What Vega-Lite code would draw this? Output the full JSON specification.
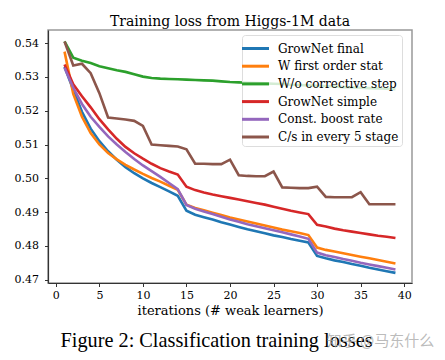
{
  "$schema": "https://vega.github.io/schema/vega-lite/v6.json",
  "width": 364,
  "height": 253,
  "autosize": {"type": "none"},
  "padding": {"left": 48, "top": 30, "right": 33, "bottom": 77},
  "background": "white",
  "title": {"text": "Training loss from Higgs-1M data", "font": "DejaVu Serif", "fontSize": 14, "fontWeight": "normal", "color": "#000000", "baseline": "alphabetic", "offset": 6, "dy": 16, "anchor": "middle"},
  "data": {"values": [
    {"method":"GrowNet final","iteration":1,"loss":0.5330},{"method":"GrowNet final","iteration":2,"loss":0.5262},{"method":"GrowNet final","iteration":3,"loss":0.5197},{"method":"GrowNet final","iteration":4,"loss":0.5147},{"method":"GrowNet final","iteration":5,"loss":0.5110},{"method":"GrowNet final","iteration":6,"loss":0.5080},{"method":"GrowNet final","iteration":7,"loss":0.5055},{"method":"GrowNet final","iteration":8,"loss":0.5033},{"method":"GrowNet final","iteration":9,"loss":0.5015},{"method":"GrowNet final","iteration":10,"loss":0.5000},{"method":"GrowNet final","iteration":11,"loss":0.4986},{"method":"GrowNet final","iteration":12,"loss":0.4974},{"method":"GrowNet final","iteration":13,"loss":0.4961},{"method":"GrowNet final","iteration":14,"loss":0.4948},{"method":"GrowNet final","iteration":15,"loss":0.4904},{"method":"GrowNet final","iteration":16,"loss":0.4892},{"method":"GrowNet final","iteration":17,"loss":0.4885},{"method":"GrowNet final","iteration":18,"loss":0.4878},{"method":"GrowNet final","iteration":19,"loss":0.4870},{"method":"GrowNet final","iteration":20,"loss":0.4863},{"method":"GrowNet final","iteration":21,"loss":0.4856},{"method":"GrowNet final","iteration":22,"loss":0.4849},{"method":"GrowNet final","iteration":23,"loss":0.4843},{"method":"GrowNet final","iteration":24,"loss":0.4837},{"method":"GrowNet final","iteration":25,"loss":0.4831},{"method":"GrowNet final","iteration":26,"loss":0.4826},{"method":"GrowNet final","iteration":27,"loss":0.4820},{"method":"GrowNet final","iteration":28,"loss":0.4815},{"method":"GrowNet final","iteration":29,"loss":0.4810},{"method":"GrowNet final","iteration":30,"loss":0.4770},{"method":"GrowNet final","iteration":31,"loss":0.4763},{"method":"GrowNet final","iteration":32,"loss":0.4757},{"method":"GrowNet final","iteration":33,"loss":0.4752},{"method":"GrowNet final","iteration":34,"loss":0.4746},{"method":"GrowNet final","iteration":35,"loss":0.4741},{"method":"GrowNet final","iteration":36,"loss":0.4735},{"method":"GrowNet final","iteration":37,"loss":0.4730},{"method":"GrowNet final","iteration":38,"loss":0.4725},{"method":"GrowNet final","iteration":39,"loss":0.4720},
    {"method":"W first order stat","iteration":1,"loss":0.5375},{"method":"W first order stat","iteration":2,"loss":0.5250},{"method":"W first order stat","iteration":3,"loss":0.5182},{"method":"W first order stat","iteration":4,"loss":0.5134},{"method":"W first order stat","iteration":5,"loss":0.5100},{"method":"W first order stat","iteration":6,"loss":0.5075},{"method":"W first order stat","iteration":7,"loss":0.5056},{"method":"W first order stat","iteration":8,"loss":0.5040},{"method":"W first order stat","iteration":9,"loss":0.5026},{"method":"W first order stat","iteration":10,"loss":0.5013},{"method":"W first order stat","iteration":11,"loss":0.5001},{"method":"W first order stat","iteration":12,"loss":0.4990},{"method":"W first order stat","iteration":13,"loss":0.4978},{"method":"W first order stat","iteration":14,"loss":0.4966},{"method":"W first order stat","iteration":15,"loss":0.4922},{"method":"W first order stat","iteration":16,"loss":0.4912},{"method":"W first order stat","iteration":17,"loss":0.4905},{"method":"W first order stat","iteration":18,"loss":0.4898},{"method":"W first order stat","iteration":19,"loss":0.4891},{"method":"W first order stat","iteration":20,"loss":0.4884},{"method":"W first order stat","iteration":21,"loss":0.4878},{"method":"W first order stat","iteration":22,"loss":0.4872},{"method":"W first order stat","iteration":23,"loss":0.4866},{"method":"W first order stat","iteration":24,"loss":0.4860},{"method":"W first order stat","iteration":25,"loss":0.4854},{"method":"W first order stat","iteration":26,"loss":0.4848},{"method":"W first order stat","iteration":27,"loss":0.4843},{"method":"W first order stat","iteration":28,"loss":0.4838},{"method":"W first order stat","iteration":29,"loss":0.4832},{"method":"W first order stat","iteration":30,"loss":0.4795},{"method":"W first order stat","iteration":31,"loss":0.4788},{"method":"W first order stat","iteration":32,"loss":0.4783},{"method":"W first order stat","iteration":33,"loss":0.4778},{"method":"W first order stat","iteration":34,"loss":0.4773},{"method":"W first order stat","iteration":35,"loss":0.4768},{"method":"W first order stat","iteration":36,"loss":0.4763},{"method":"W first order stat","iteration":37,"loss":0.4758},{"method":"W first order stat","iteration":38,"loss":0.4753},{"method":"W first order stat","iteration":39,"loss":0.4748},
    {"method":"W/o corrective step","iteration":1,"loss":0.5405},{"method":"W/o corrective step","iteration":2,"loss":0.5357},{"method":"W/o corrective step","iteration":3,"loss":0.5348},{"method":"W/o corrective step","iteration":4,"loss":0.5341},{"method":"W/o corrective step","iteration":5,"loss":0.5332},{"method":"W/o corrective step","iteration":6,"loss":0.5326},{"method":"W/o corrective step","iteration":7,"loss":0.5320},{"method":"W/o corrective step","iteration":8,"loss":0.5315},{"method":"W/o corrective step","iteration":9,"loss":0.5308},{"method":"W/o corrective step","iteration":10,"loss":0.5301},{"method":"W/o corrective step","iteration":11,"loss":0.5297},{"method":"W/o corrective step","iteration":12,"loss":0.5295},{"method":"W/o corrective step","iteration":13,"loss":0.5294},{"method":"W/o corrective step","iteration":14,"loss":0.5293},{"method":"W/o corrective step","iteration":15,"loss":0.5292},{"method":"W/o corrective step","iteration":16,"loss":0.5291},{"method":"W/o corrective step","iteration":17,"loss":0.5290},{"method":"W/o corrective step","iteration":18,"loss":0.5289},{"method":"W/o corrective step","iteration":19,"loss":0.5287},{"method":"W/o corrective step","iteration":20,"loss":0.5285},{"method":"W/o corrective step","iteration":21,"loss":0.5284},{"method":"W/o corrective step","iteration":22,"loss":0.5283},{"method":"W/o corrective step","iteration":23,"loss":0.5282},{"method":"W/o corrective step","iteration":24,"loss":0.5281},{"method":"W/o corrective step","iteration":25,"loss":0.5280},{"method":"W/o corrective step","iteration":26,"loss":0.5279},{"method":"W/o corrective step","iteration":27,"loss":0.5277},{"method":"W/o corrective step","iteration":28,"loss":0.5276},{"method":"W/o corrective step","iteration":29,"loss":0.5275},{"method":"W/o corrective step","iteration":30,"loss":0.5274},{"method":"W/o corrective step","iteration":31,"loss":0.5273},{"method":"W/o corrective step","iteration":32,"loss":0.5272},{"method":"W/o corrective step","iteration":33,"loss":0.5270},{"method":"W/o corrective step","iteration":34,"loss":0.5269},{"method":"W/o corrective step","iteration":35,"loss":0.5268},{"method":"W/o corrective step","iteration":36,"loss":0.5267},{"method":"W/o corrective step","iteration":37,"loss":0.5266},{"method":"W/o corrective step","iteration":38,"loss":0.5265},{"method":"W/o corrective step","iteration":39,"loss":0.5264},
    {"method":"GrowNet simple","iteration":1,"loss":0.5337},{"method":"GrowNet simple","iteration":2,"loss":0.5278},{"method":"GrowNet simple","iteration":3,"loss":0.5243},{"method":"GrowNet simple","iteration":4,"loss":0.5210},{"method":"GrowNet simple","iteration":5,"loss":0.5175},{"method":"GrowNet simple","iteration":6,"loss":0.5145},{"method":"GrowNet simple","iteration":7,"loss":0.5117},{"method":"GrowNet simple","iteration":8,"loss":0.5093},{"method":"GrowNet simple","iteration":9,"loss":0.5074},{"method":"GrowNet simple","iteration":10,"loss":0.5058},{"method":"GrowNet simple","iteration":11,"loss":0.5043},{"method":"GrowNet simple","iteration":12,"loss":0.5030},{"method":"GrowNet simple","iteration":13,"loss":0.5020},{"method":"GrowNet simple","iteration":14,"loss":0.5011},{"method":"GrowNet simple","iteration":15,"loss":0.4975},{"method":"GrowNet simple","iteration":16,"loss":0.4965},{"method":"GrowNet simple","iteration":17,"loss":0.4958},{"method":"GrowNet simple","iteration":18,"loss":0.4952},{"method":"GrowNet simple","iteration":19,"loss":0.4947},{"method":"GrowNet simple","iteration":20,"loss":0.4942},{"method":"GrowNet simple","iteration":21,"loss":0.4937},{"method":"GrowNet simple","iteration":22,"loss":0.4932},{"method":"GrowNet simple","iteration":23,"loss":0.4927},{"method":"GrowNet simple","iteration":24,"loss":0.4922},{"method":"GrowNet simple","iteration":25,"loss":0.4916},{"method":"GrowNet simple","iteration":26,"loss":0.4910},{"method":"GrowNet simple","iteration":27,"loss":0.4904},{"method":"GrowNet simple","iteration":28,"loss":0.4899},{"method":"GrowNet simple","iteration":29,"loss":0.4894},{"method":"GrowNet simple","iteration":30,"loss":0.4862},{"method":"GrowNet simple","iteration":31,"loss":0.4857},{"method":"GrowNet simple","iteration":32,"loss":0.4851},{"method":"GrowNet simple","iteration":33,"loss":0.4846},{"method":"GrowNet simple","iteration":34,"loss":0.4842},{"method":"GrowNet simple","iteration":35,"loss":0.4838},{"method":"GrowNet simple","iteration":36,"loss":0.4834},{"method":"GrowNet simple","iteration":37,"loss":0.4830},{"method":"GrowNet simple","iteration":38,"loss":0.4827},{"method":"GrowNet simple","iteration":39,"loss":0.4823},
    {"method":"Const. boost rate","iteration":1,"loss":0.5327},{"method":"Const. boost rate","iteration":2,"loss":0.5268},{"method":"Const. boost rate","iteration":3,"loss":0.5220},{"method":"Const. boost rate","iteration":4,"loss":0.5182},{"method":"Const. boost rate","iteration":5,"loss":0.5152},{"method":"Const. boost rate","iteration":6,"loss":0.5124},{"method":"Const. boost rate","iteration":7,"loss":0.5100},{"method":"Const. boost rate","iteration":8,"loss":0.5078},{"method":"Const. boost rate","iteration":9,"loss":0.5057},{"method":"Const. boost rate","iteration":10,"loss":0.5038},{"method":"Const. boost rate","iteration":11,"loss":0.5021},{"method":"Const. boost rate","iteration":12,"loss":0.5004},{"method":"Const. boost rate","iteration":13,"loss":0.4986},{"method":"Const. boost rate","iteration":14,"loss":0.4968},{"method":"Const. boost rate","iteration":15,"loss":0.4921},{"method":"Const. boost rate","iteration":16,"loss":0.4910},{"method":"Const. boost rate","iteration":17,"loss":0.4902},{"method":"Const. boost rate","iteration":18,"loss":0.4894},{"method":"Const. boost rate","iteration":19,"loss":0.4886},{"method":"Const. boost rate","iteration":20,"loss":0.4878},{"method":"Const. boost rate","iteration":21,"loss":0.4871},{"method":"Const. boost rate","iteration":22,"loss":0.4864},{"method":"Const. boost rate","iteration":23,"loss":0.4858},{"method":"Const. boost rate","iteration":24,"loss":0.4852},{"method":"Const. boost rate","iteration":25,"loss":0.4846},{"method":"Const. boost rate","iteration":26,"loss":0.4840},{"method":"Const. boost rate","iteration":27,"loss":0.4834},{"method":"Const. boost rate","iteration":28,"loss":0.4828},{"method":"Const. boost rate","iteration":29,"loss":0.4821},{"method":"Const. boost rate","iteration":30,"loss":0.4780},{"method":"Const. boost rate","iteration":31,"loss":0.4772},{"method":"Const. boost rate","iteration":32,"loss":0.4767},{"method":"Const. boost rate","iteration":33,"loss":0.4761},{"method":"Const. boost rate","iteration":34,"loss":0.4756},{"method":"Const. boost rate","iteration":35,"loss":0.4750},{"method":"Const. boost rate","iteration":36,"loss":0.4745},{"method":"Const. boost rate","iteration":37,"loss":0.4740},{"method":"Const. boost rate","iteration":38,"loss":0.4735},{"method":"Const. boost rate","iteration":39,"loss":0.4730},
    {"method":"C/s in every 5 stage","iteration":1,"loss":0.5405},{"method":"C/s in every 5 stage","iteration":2,"loss":0.5334},{"method":"C/s in every 5 stage","iteration":3,"loss":0.5339},{"method":"C/s in every 5 stage","iteration":4,"loss":0.5311},{"method":"C/s in every 5 stage","iteration":5,"loss":0.5252},{"method":"C/s in every 5 stage","iteration":6,"loss":0.5180},{"method":"C/s in every 5 stage","iteration":7,"loss":0.5177},{"method":"C/s in every 5 stage","iteration":8,"loss":0.5174},{"method":"C/s in every 5 stage","iteration":9,"loss":0.5170},{"method":"C/s in every 5 stage","iteration":10,"loss":0.5155},{"method":"C/s in every 5 stage","iteration":11,"loss":0.5100},{"method":"C/s in every 5 stage","iteration":12,"loss":0.5098},{"method":"C/s in every 5 stage","iteration":13,"loss":0.5096},{"method":"C/s in every 5 stage","iteration":14,"loss":0.5094},{"method":"C/s in every 5 stage","iteration":15,"loss":0.5086},{"method":"C/s in every 5 stage","iteration":16,"loss":0.5043},{"method":"C/s in every 5 stage","iteration":17,"loss":0.5043},{"method":"C/s in every 5 stage","iteration":18,"loss":0.5042},{"method":"C/s in every 5 stage","iteration":19,"loss":0.5042},{"method":"C/s in every 5 stage","iteration":20,"loss":0.5055},{"method":"C/s in every 5 stage","iteration":21,"loss":0.5009},{"method":"C/s in every 5 stage","iteration":22,"loss":0.5007},{"method":"C/s in every 5 stage","iteration":23,"loss":0.5006},{"method":"C/s in every 5 stage","iteration":24,"loss":0.5006},{"method":"C/s in every 5 stage","iteration":25,"loss":0.5020},{"method":"C/s in every 5 stage","iteration":26,"loss":0.4973},{"method":"C/s in every 5 stage","iteration":27,"loss":0.4972},{"method":"C/s in every 5 stage","iteration":28,"loss":0.4971},{"method":"C/s in every 5 stage","iteration":29,"loss":0.4971},{"method":"C/s in every 5 stage","iteration":30,"loss":0.4975},{"method":"C/s in every 5 stage","iteration":31,"loss":0.4945},{"method":"C/s in every 5 stage","iteration":32,"loss":0.4944},{"method":"C/s in every 5 stage","iteration":33,"loss":0.4944},{"method":"C/s in every 5 stage","iteration":34,"loss":0.4944},{"method":"C/s in every 5 stage","iteration":35,"loss":0.4959},{"method":"C/s in every 5 stage","iteration":36,"loss":0.4923},{"method":"C/s in every 5 stage","iteration":37,"loss":0.4923},{"method":"C/s in every 5 stage","iteration":38,"loss":0.4923},{"method":"C/s in every 5 stage","iteration":39,"loss":0.4923}
  ]},
  "layer": [
    {
      "mark": {"type": "line", "strokeWidth": 2.6, "clip": true},
      "encoding": {
        "x": {"field": "iteration", "type": "quantitative",
          "scale": {"domain": [-0.9, 40.9], "nice": false, "zero": false},
          "axis": {"values": [0, 5, 10, 15, 20, 25, 30, 35, 40], "title": "iterations (# weak learners)", "titleFont": "DejaVu Serif", "titleFontSize": 13, "titleFontWeight": "normal", "titleColor": "#000000", "titlePadding": 4, "labelPadding": 3}},
        "y": {"field": "loss", "type": "quantitative",
          "scale": {"domain": [0.469, 0.5439], "nice": false, "zero": false},
          "axis": {"values": [0.47, 0.48, 0.49, 0.5, 0.51, 0.52, 0.53, 0.54], "format": ".2f", "title": null, "labelPadding": 6}},
        "color": {"field": "method", "type": "nominal",
          "scale": {"domain": ["GrowNet final", "W first order stat", "W/o corrective step", "GrowNet simple", "Const. boost rate", "C/s in every 5 stage"],
                    "range": ["#1f77b4", "#ff7f0e", "#2ca02c", "#d62728", "#9467bd", "#8c564b"]},
          "legend": {"orient": "none", "legendX": 194, "legendY": 5, "title": null, "symbolType": "M-1.5,0H1.5", "symbolSize": 324, "symbolStrokeWidth": 3, "labelFont": "DejaVu Serif", "labelFontSize": 12, "labelColor": "#000000", "rowPadding": 0.7, "labelOffset": 12, "padding": 3, "fillColor": "rgba(255,255,255,0.8)", "strokeColor": "#dddddd", "cornerRadius": 3, "labelLimit": 300}}
      }
    },
    {
      "mark": {"type": "line", "opacity": 0},
      "encoding": {
        "x": {"field": "iteration", "type": "quantitative",
          "scale": {"domain": [-0.9, 40.9], "nice": false, "zero": false},
          "axis": {"orient": "bottom", "labels": false, "ticks": false, "domain": false, "grid": false, "title": "Figure 2: Classification training losses", "titleFont": "Liberation Serif", "titleFontSize": 20.3, "titleFontWeight": "normal", "titleColor": "#000000", "titleX": 168, "titleY": 63, "titleAlign": "center", "titleBaseline": "alphabetic"}},
        "y": {"field": "loss", "type": "quantitative",
          "scale": {"domain": [0.469, 0.5439], "nice": false, "zero": false},
          "axis": {"orient": "right", "labels": false, "ticks": false, "domain": false, "grid": false, "title": "知乎 @马东什么", "titleFont": "Noto Sans CJK SC", "titleFontSize": 15, "titleFontWeight": "normal", "titleColor": "#aaaaaa", "titleOpacity": 0.8, "titleAngle": 0, "titleX": -32, "titleY": 315, "titleAlign": "center", "titleBaseline": "alphabetic"}},
        "detail": {"field": "method"}
      }
    }
  ],
  "resolve": {"scale": {"x": "independent", "y": "independent"}},
  "config": {
    "view": {"stroke": "#999999", "strokeWidth": 1.5},
    "axis": {"grid": false, "labelFont": "DejaVu Serif", "labelFontSize": 11, "labelColor": "#000000", "tickColor": "#333333", "tickSize": 3.5, "domainColor": "#333333", "domainWidth": 1.2}
  }
}
